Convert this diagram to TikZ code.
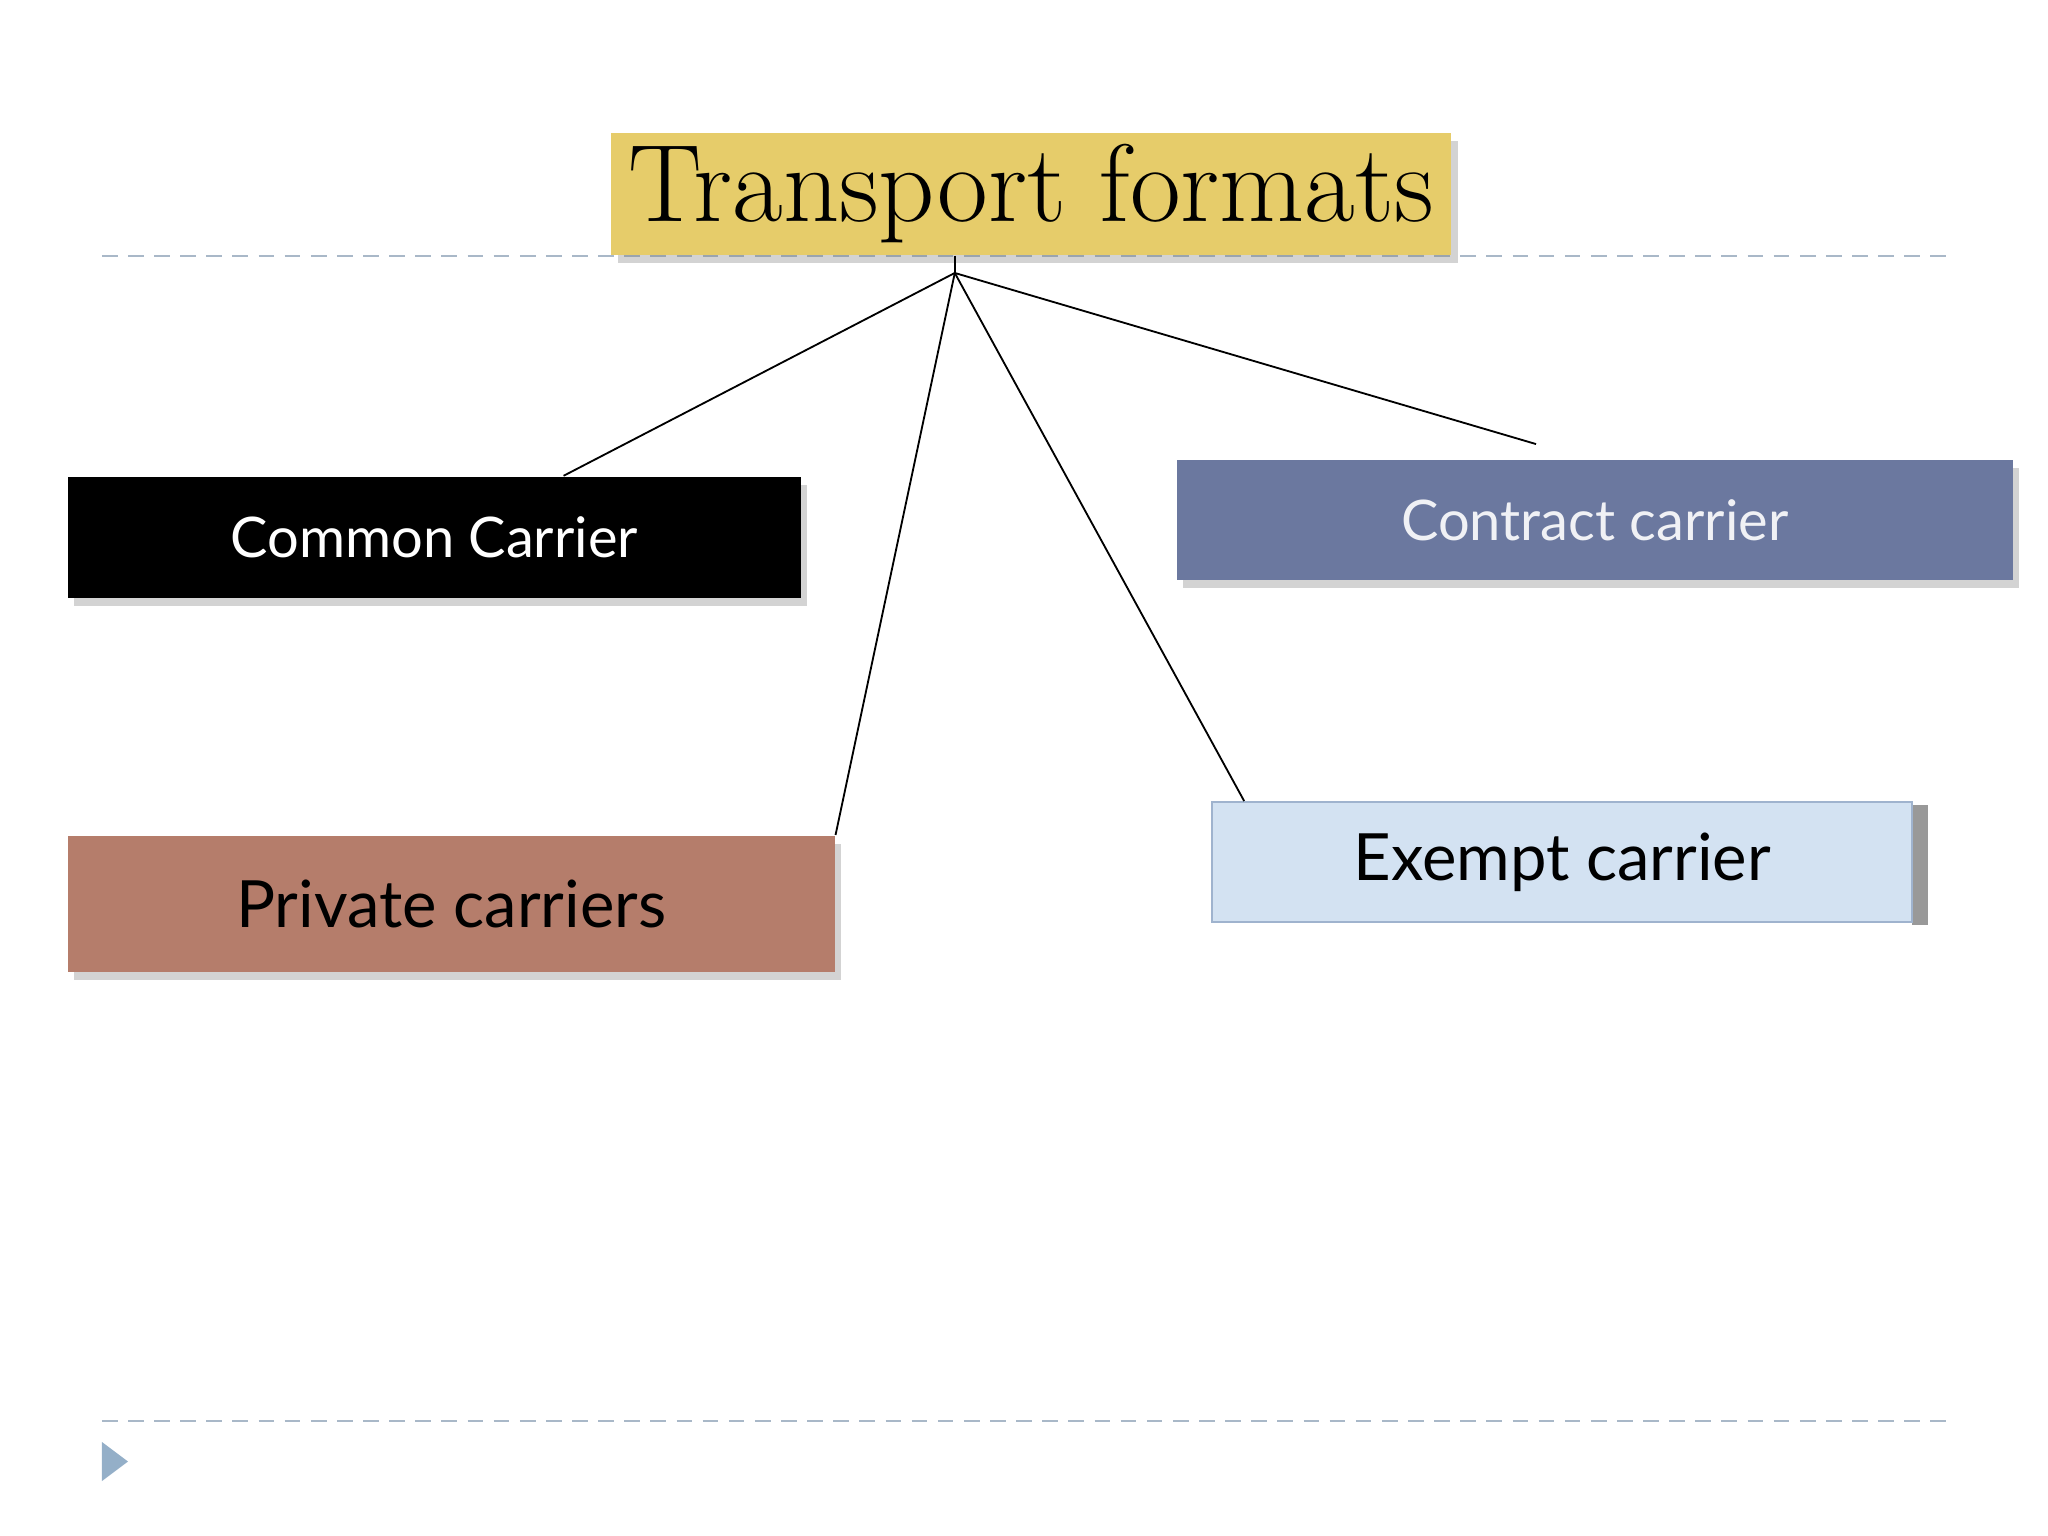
\documentclass[tikz,border=0pt]{standalone}
\usepackage{fontspec}
\setsansfont{Lato}
\usetikzlibrary{positioning, calc, shadows}
\definecolor{tfgold}{HTML}{E6CC6A}
\definecolor{tfblue}{HTML}{6B789F}
\definecolor{tfbrown}{HTML}{B57D6B}
\definecolor{tfpale}{HTML}{D3E2F2}
\definecolor{tfedge}{HTML}{9FB3CE}
\definecolor{tfdash}{HTML}{A9B8C8}
\definecolor{tfmark}{HTML}{94AFC8}

\begin{document}
\begin{tikzpicture}[
    box/.style={rectangle, inner sep=0pt, drop shadow={shadow xshift=0.5mm, shadow yshift=-0.6mm, opacity=0.35}},
    label/.style={font=\sffamily\fontsize{12.2}{14}\selectfont},
    biglabel/.style={font=\sffamily\fontsize{14.2}{16}\selectfont},
    rule/.style={dash pattern=on 1.2mm off 0.8mm, tfdash, thin},
    link/.style={black, line width=0.4pt}
]
\useasboundingbox (0,0) rectangle (15.68,-11.76);

% Guide rules
\draw[rule] (0.78,-1.96) -- (14.9,-1.96);
\draw[rule] (0.78,-10.88) -- (14.9,-10.88);

% Title
\node[box, fill=tfgold, minimum width=6.43cm, minimum height=0.93cm,
      font=\fontsize{24}{26}\selectfont] (title) at (7.895,-1.485) {Transport formats};

% Carriers
\node[box, fill=black, text=white, label, minimum width=5.61cm, minimum height=0.93cm] (common) at (3.325,-4.115) {Common Carrier};
\node[box, fill=tfblue, text=white!90!tfblue, label, minimum width=6.40cm, minimum height=0.92cm] (contract) at (12.21,-3.98) {Contract carrier};
\node[box, fill=tfbrown, biglabel, minimum width=5.87cm, minimum height=1.04cm] (private) at (3.455,-6.92) {Private carriers};
\fill[gray!80] (14.64,-6.16) rectangle (14.76,-7.08);
\node[rectangle, fill=tfpale, draw=tfedge, biglabel, minimum width=5.36cm, minimum height=0.92cm] (exempt) at (11.96,-6.60) {Exempt carrier};

% Connectors
\coordinate (apex) at (7.31,-2.09);
\coordinate (contracttip) at (11.76,-3.40);
\draw[link] (title.south -| apex) -- (apex);
\draw[link] (apex) -- ($(common.north west)!0.676!(common.north east)$);
\draw[link] (apex) -- (private.north east);
\draw[link] (apex) -- ($(exempt.north west)!0.047!(exempt.north east)$);
\draw[link] (apex) -- (contracttip);

% Slide marker
\fill[tfmark] (0.78,-11.04) -- (0.98,-11.19) -- (0.78,-11.34) -- cycle;
\end{tikzpicture}
\end{document}
